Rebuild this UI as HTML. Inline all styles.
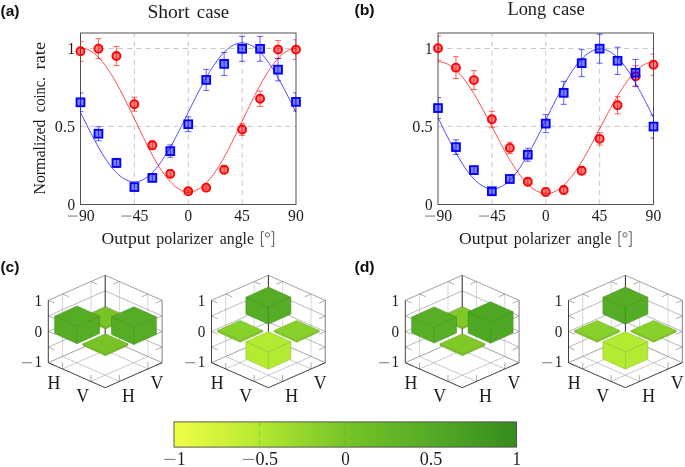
<!DOCTYPE html>
<html><head><meta charset="utf-8"><title>figure</title>
<style>html,body{margin:0;padding:0;background:#fff;overflow:hidden;}svg{display:block;will-change:transform;}text{fill:#1c1c1c;}</style></head>
<body>
<svg width="685" height="467" viewBox="0 0 685 467">
<rect width="685" height="467" fill="#ffffff"/>
<clipPath id="clip1"><rect x="80.5" y="33.0" width="215.5" height="171.5"/></clipPath>
<path d="M134.38,204.5V33.0" stroke="#b9b9b9" stroke-width="0.8" stroke-dasharray="5.2 4.1" fill="none"/>
<path d="M188.25,204.5V33.0" stroke="#b9b9b9" stroke-width="0.8" stroke-dasharray="5.2 4.1" fill="none"/>
<path d="M242.12,204.5V33.0" stroke="#b9b9b9" stroke-width="0.8" stroke-dasharray="5.2 4.1" fill="none"/>
<path d="M80.5,126.40H296.0" stroke="#b9b9b9" stroke-width="0.8" stroke-dasharray="5.2 4.1" fill="none"/>
<path d="M80.5,48.50H296.0" stroke="#b9b9b9" stroke-width="0.8" stroke-dasharray="5.2 4.1" fill="none"/>
<rect x="80.5" y="33.0" width="215.5" height="171.5" fill="none" stroke="#3f3f3f" stroke-width="0.9"/>
<g clip-path="url(#clip1)">
<path d="M80.5,48.2L82.3,48.2L84.1,48.5L85.9,48.9L87.7,49.5L89.5,50.3L91.3,51.3L93.1,52.5L94.9,53.9L96.7,55.5L98.5,57.2L100.3,59.1L102.0,61.2L103.8,63.4L105.6,65.8L107.4,68.4L109.2,71.1L111.0,73.9L112.8,76.8L114.6,79.9L116.4,83.1L118.2,86.4L120.0,89.7L121.8,93.2L123.6,96.7L125.4,100.3L127.2,103.9L129.0,107.6L130.8,111.4L132.6,115.1L134.4,118.9L136.2,122.6L138.0,126.4L139.8,130.1L141.6,133.8L143.4,137.5L145.2,141.1L146.9,144.7L148.7,148.2L150.5,151.6L152.3,155.0L154.1,158.2L155.9,161.4L157.7,164.4L159.5,167.3L161.3,170.1L163.1,172.7L164.9,175.2L166.7,177.6L168.5,179.7L170.3,181.8L172.1,183.6L173.9,185.3L175.7,186.8L177.5,188.1L179.3,189.3L181.1,190.2L182.9,190.9L184.7,191.5L186.5,191.9L188.2,192.0L190.0,192.0L191.8,191.8L193.6,191.3L195.4,190.7L197.2,189.9L199.0,188.9L200.8,187.7L202.6,186.3L204.4,184.8L206.2,183.0L208.0,181.1L209.8,179.0L211.6,176.8L213.4,174.4L215.2,171.9L217.0,169.2L218.8,166.3L220.6,163.4L222.4,160.3L224.2,157.2L226.0,153.9L227.8,150.5L229.6,147.1L231.3,143.5L233.1,139.9L234.9,136.3L236.7,132.6L238.5,128.9L240.3,125.1L242.1,121.4L243.9,117.6L245.7,113.9L247.5,110.1L249.3,106.4L251.1,102.7L252.9,99.1L254.7,95.5L256.5,92.0L258.3,88.6L260.1,85.3L261.9,82.0L263.7,78.9L265.5,75.8L267.3,72.9L269.1,70.2L270.9,67.5L272.7,65.0L274.4,62.7L276.2,60.5L278.0,58.5L279.8,56.6L281.6,54.9L283.4,53.4L285.2,52.1L287.0,51.0L288.8,50.0L290.6,49.3L292.4,48.7L294.2,48.4L296.0,48.2" fill="none" stroke="#ff0000" stroke-width="0.7" stroke-linejoin="round"/>
<path d="M80.50,41.31V61.31M77.45,41.31h6.1M77.45,61.31h6.1M98.46,38.67V58.67M95.41,38.67h6.1M95.41,58.67h6.1M116.42,46.37V65.57M113.37,46.37h6.1M113.37,65.57h6.1M134.38,97.18V111.18M131.32,97.18h6.1M131.32,111.18h6.1M152.33,140.93V149.53M149.28,140.93h6.1M149.28,149.53h6.1M170.29,169.84V177.84M167.24,169.84h6.1M167.24,177.84h6.1M188.25,190.06V192.46M185.20,190.06h6.1M185.20,192.46h6.1M206.21,186.18V189.18M203.16,186.18h6.1M203.16,189.18h6.1M224.17,165.80V173.80M221.12,165.80h6.1M221.12,173.80h6.1M242.12,123.63V135.43M239.07,123.63h6.1M239.07,135.43h6.1M260.08,91.04V106.44M257.03,91.04h6.1M257.03,106.44h6.1M278.04,40.70V58.50M274.99,40.70h6.1M274.99,58.50h6.1M296.00,39.80V59.40M292.95,39.80h6.1M292.95,59.40h6.1" stroke="#ff0000" stroke-width="0.62" fill="none"/>
</g>
<circle cx="80.50" cy="51.31" r="4.02" fill="#ff0000" fill-opacity="0.5" stroke="#ff0000" stroke-width="1.85"/>
<circle cx="98.46" cy="48.67" r="4.02" fill="#ff0000" fill-opacity="0.5" stroke="#ff0000" stroke-width="1.85"/>
<circle cx="116.42" cy="55.97" r="4.02" fill="#ff0000" fill-opacity="0.5" stroke="#ff0000" stroke-width="1.85"/>
<circle cx="134.38" cy="104.18" r="4.02" fill="#ff0000" fill-opacity="0.5" stroke="#ff0000" stroke-width="1.85"/>
<circle cx="152.33" cy="145.23" r="4.02" fill="#ff0000" fill-opacity="0.5" stroke="#ff0000" stroke-width="1.85"/>
<circle cx="170.29" cy="173.84" r="4.02" fill="#ff0000" fill-opacity="0.5" stroke="#ff0000" stroke-width="1.85"/>
<circle cx="188.25" cy="191.26" r="4.02" fill="#ff0000" fill-opacity="0.5" stroke="#ff0000" stroke-width="1.85"/>
<circle cx="206.21" cy="187.68" r="4.02" fill="#ff0000" fill-opacity="0.5" stroke="#ff0000" stroke-width="1.85"/>
<circle cx="224.17" cy="169.80" r="4.02" fill="#ff0000" fill-opacity="0.5" stroke="#ff0000" stroke-width="1.85"/>
<circle cx="242.12" cy="129.53" r="4.02" fill="#ff0000" fill-opacity="0.5" stroke="#ff0000" stroke-width="1.85"/>
<circle cx="260.08" cy="98.74" r="4.02" fill="#ff0000" fill-opacity="0.5" stroke="#ff0000" stroke-width="1.85"/>
<circle cx="278.04" cy="49.60" r="4.02" fill="#ff0000" fill-opacity="0.5" stroke="#ff0000" stroke-width="1.85"/>
<circle cx="296.00" cy="49.60" r="4.02" fill="#ff0000" fill-opacity="0.5" stroke="#ff0000" stroke-width="1.85"/>
<g clip-path="url(#clip1)">
<path d="M80.5,112.4L82.3,116.1L84.1,119.7L85.9,123.3L87.7,126.9L89.5,130.4L91.3,133.9L93.1,137.3L94.9,140.7L96.7,144.0L98.5,147.2L100.3,150.3L102.0,153.3L103.8,156.2L105.6,158.9L107.4,161.6L109.2,164.1L111.0,166.4L112.8,168.7L114.6,170.7L116.4,172.6L118.2,174.4L120.0,175.9L121.8,177.3L123.6,178.5L125.4,179.6L127.2,180.4L129.0,181.1L130.8,181.5L132.6,181.8L134.4,181.9L136.2,181.8L138.0,181.5L139.8,181.1L141.6,180.4L143.4,179.6L145.2,178.5L146.9,177.3L148.7,175.9L150.5,174.4L152.3,172.6L154.1,170.7L155.9,168.7L157.7,166.4L159.5,164.1L161.3,161.6L163.1,158.9L164.9,156.2L166.7,153.3L168.5,150.3L170.3,147.2L172.1,144.0L173.9,140.7L175.7,137.3L177.5,133.9L179.3,130.4L181.1,126.9L182.9,123.3L184.7,119.7L186.5,116.1L188.2,112.4L190.0,108.8L191.8,105.2L193.6,101.5L195.4,98.0L197.2,94.4L199.0,90.9L200.8,87.5L202.6,84.1L204.4,80.9L206.2,77.7L208.0,74.6L209.8,71.6L211.6,68.7L213.4,65.9L215.2,63.3L217.0,60.8L218.8,58.4L220.6,56.2L222.4,54.1L224.2,52.2L226.0,50.5L227.8,48.9L229.6,47.5L231.3,46.3L233.1,45.3L234.9,44.4L236.7,43.8L238.5,43.3L240.3,43.0L242.1,42.9L243.9,43.0L245.7,43.3L247.5,43.8L249.3,44.4L251.1,45.3L252.9,46.3L254.7,47.5L256.5,48.9L258.3,50.5L260.1,52.2L261.9,54.1L263.7,56.2L265.5,58.4L267.3,60.8L269.1,63.3L270.9,65.9L272.7,68.7L274.4,71.6L276.2,74.6L278.0,77.7L279.8,80.9L281.6,84.1L283.4,87.5L285.2,90.9L287.0,94.4L288.8,98.0L290.6,101.5L292.4,105.2L294.2,108.8L296.0,112.4" fill="none" stroke="#0000ff" stroke-width="0.7" stroke-linejoin="round"/>
<path d="M80.50,93.01V111.61M77.45,93.01h6.1M77.45,111.61h6.1M98.46,126.72V140.72M95.41,126.72h6.1M95.41,140.72h6.1M116.42,158.36V167.56M113.37,158.36h6.1M113.37,167.56h6.1M134.38,183.46V190.66M131.32,183.46h6.1M131.32,190.66h6.1M152.33,173.89V181.89M149.28,173.89h6.1M149.28,181.89h6.1M170.29,144.94V157.34M167.24,144.94h6.1M167.24,157.34h6.1M188.25,116.84V131.64M185.20,116.84h6.1M185.20,131.64h6.1M206.21,69.42V90.42M203.16,69.42h6.1M203.16,90.42h6.1M224.17,52.41V75.41M221.12,52.41h6.1M221.12,75.41h6.1M242.12,36.32V61.32M239.07,36.32h6.1M239.07,61.32h6.1M260.08,36.42V61.22M257.03,36.42h6.1M257.03,61.22h6.1M278.04,58.46V80.86M274.99,58.46h6.1M274.99,80.86h6.1M296.00,92.85V110.85M292.95,92.85h6.1M292.95,110.85h6.1" stroke="#0000ff" stroke-width="0.62" fill="none"/>
</g>
<rect x="76.58" y="98.39" width="7.84" height="7.84" fill="#0000ff" fill-opacity="0.5" stroke="#0000ff" stroke-width="1.85"/>
<rect x="94.54" y="129.80" width="7.84" height="7.84" fill="#0000ff" fill-opacity="0.5" stroke="#0000ff" stroke-width="1.85"/>
<rect x="112.50" y="159.04" width="7.84" height="7.84" fill="#0000ff" fill-opacity="0.5" stroke="#0000ff" stroke-width="1.85"/>
<rect x="130.46" y="183.14" width="7.84" height="7.84" fill="#0000ff" fill-opacity="0.5" stroke="#0000ff" stroke-width="1.85"/>
<rect x="148.41" y="173.97" width="7.84" height="7.84" fill="#0000ff" fill-opacity="0.5" stroke="#0000ff" stroke-width="1.85"/>
<rect x="166.37" y="147.22" width="7.84" height="7.84" fill="#0000ff" fill-opacity="0.5" stroke="#0000ff" stroke-width="1.85"/>
<rect x="184.33" y="120.32" width="7.84" height="7.84" fill="#0000ff" fill-opacity="0.5" stroke="#0000ff" stroke-width="1.85"/>
<rect x="202.29" y="76.00" width="7.84" height="7.84" fill="#0000ff" fill-opacity="0.5" stroke="#0000ff" stroke-width="1.85"/>
<rect x="220.25" y="59.99" width="7.84" height="7.84" fill="#0000ff" fill-opacity="0.5" stroke="#0000ff" stroke-width="1.85"/>
<rect x="238.21" y="44.90" width="7.84" height="7.84" fill="#0000ff" fill-opacity="0.5" stroke="#0000ff" stroke-width="1.85"/>
<rect x="256.16" y="44.90" width="7.84" height="7.84" fill="#0000ff" fill-opacity="0.5" stroke="#0000ff" stroke-width="1.85"/>
<rect x="274.12" y="65.74" width="7.84" height="7.84" fill="#0000ff" fill-opacity="0.5" stroke="#0000ff" stroke-width="1.85"/>
<rect x="292.08" y="97.93" width="7.84" height="7.84" fill="#0000ff" fill-opacity="0.5" stroke="#0000ff" stroke-width="1.85"/>
<path d="M67.61,216.05h10.09" stroke="#3a3a3a" stroke-width="0.7" fill="none"/>
<text x="78.90" y="220.70" font-size="16.5" text-anchor="start" font-family='"Liberation Serif", serif' textLength="15.70" lengthAdjust="spacingAndGlyphs" >90</text>
<path d="M121.49,216.05h10.09" stroke="#3a3a3a" stroke-width="0.7" fill="none"/>
<text x="132.78" y="220.70" font-size="16.5" text-anchor="start" font-family='"Liberation Serif", serif' textLength="15.70" lengthAdjust="spacingAndGlyphs" >45</text>
<text x="184.40" y="220.70" font-size="16.5" text-anchor="start" font-family='"Liberation Serif", serif' textLength="7.60" lengthAdjust="spacingAndGlyphs" >0</text>
<text x="234.23" y="220.70" font-size="16.5" text-anchor="start" font-family='"Liberation Serif", serif' textLength="15.70" lengthAdjust="spacingAndGlyphs" >45</text>
<text x="288.10" y="220.70" font-size="16.5" text-anchor="start" font-family='"Liberation Serif", serif' textLength="15.70" lengthAdjust="spacingAndGlyphs" >90</text>
<text x="67.40" y="209.80" font-size="16.5" text-anchor="start" font-family='"Liberation Serif", serif' textLength="7.60" lengthAdjust="spacingAndGlyphs" >0</text>
<text x="54.80" y="131.70" font-size="16.5" text-anchor="start" font-family='"Liberation Serif", serif' textLength="20.20" lengthAdjust="spacingAndGlyphs" >0.5</text>
<text x="67.40" y="53.80" font-size="16.5" text-anchor="start" font-family='"Liberation Serif", serif' textLength="7.60" lengthAdjust="spacingAndGlyphs" >1</text>
<text x="101.60" y="243.90" font-size="16.6" text-anchor="start" font-family='"Liberation Serif", serif' textLength="48.90" lengthAdjust="spacingAndGlyphs" >Output</text>
<text x="156.30" y="243.90" font-size="16.6" text-anchor="start" font-family='"Liberation Serif", serif' textLength="56.70" lengthAdjust="spacingAndGlyphs" >polarizer</text>
<text x="219.80" y="243.90" font-size="16.6" text-anchor="start" font-family='"Liberation Serif", serif' textLength="34.20" lengthAdjust="spacingAndGlyphs" >angle</text>
<path d="M263.80,231.7H261.45V246.4H263.80M271.30,231.7H273.65V246.4H271.30" stroke="#333" stroke-width="0.85" fill="none"/>
<circle cx="267.45" cy="234.8" r="2.15" stroke="#333" stroke-width="0.75" fill="none"/>
<clipPath id="clip2"><rect x="438.0" y="33.0" width="215.5" height="171.5"/></clipPath>
<path d="M491.88,204.5V33.0" stroke="#b9b9b9" stroke-width="0.8" stroke-dasharray="5.2 4.1" fill="none"/>
<path d="M545.75,204.5V33.0" stroke="#b9b9b9" stroke-width="0.8" stroke-dasharray="5.2 4.1" fill="none"/>
<path d="M599.62,204.5V33.0" stroke="#b9b9b9" stroke-width="0.8" stroke-dasharray="5.2 4.1" fill="none"/>
<path d="M438.0,126.40H653.5" stroke="#b9b9b9" stroke-width="0.8" stroke-dasharray="5.2 4.1" fill="none"/>
<path d="M438.0,48.50H653.5" stroke="#b9b9b9" stroke-width="0.8" stroke-dasharray="5.2 4.1" fill="none"/>
<rect x="438.0" y="33.0" width="215.5" height="171.5" fill="none" stroke="#3f3f3f" stroke-width="0.9"/>
<g clip-path="url(#clip2)">
<path d="M438.0,61.9L439.8,61.9L441.6,62.1L443.4,62.5L445.2,63.1L447.0,63.8L448.8,64.8L450.6,65.9L452.4,67.1L454.2,68.5L456.0,70.1L457.8,71.9L459.6,73.8L461.3,75.8L463.1,78.0L464.9,80.4L466.7,82.8L468.5,85.4L470.3,88.1L472.1,90.9L473.9,93.8L475.7,96.8L477.5,99.9L479.3,103.1L481.1,106.3L482.9,109.6L484.7,112.9L486.5,116.3L488.3,119.7L490.1,123.1L491.9,126.6L493.7,130.0L495.5,133.5L497.3,136.9L499.1,140.3L500.9,143.7L502.6,147.0L504.4,150.3L506.2,153.5L508.0,156.6L509.8,159.7L511.6,162.6L513.4,165.5L515.2,168.3L517.0,170.9L518.8,173.5L520.6,175.9L522.4,178.2L524.2,180.3L526.0,182.3L527.8,184.2L529.6,185.9L531.4,187.4L533.2,188.8L535.0,190.0L536.8,191.0L538.6,191.9L540.4,192.6L542.2,193.1L544.0,193.4L545.8,193.6L547.5,193.6L549.3,193.3L551.1,193.0L552.9,192.4L554.7,191.6L556.5,190.7L558.3,189.6L560.1,188.4L561.9,186.9L563.7,185.3L565.5,183.6L567.3,181.7L569.1,179.6L570.9,177.4L572.7,175.1L574.5,172.7L576.3,170.1L578.1,167.4L579.9,164.6L581.7,161.7L583.5,158.7L585.3,155.6L587.1,152.4L588.9,149.2L590.6,145.9L592.4,142.6L594.2,139.2L596.0,135.8L597.8,132.3L599.6,128.9L601.4,125.4L603.2,122.0L605.0,118.6L606.8,115.2L608.6,111.8L610.4,108.5L612.2,105.2L614.0,102.0L615.8,98.9L617.6,95.8L619.4,92.8L621.2,90.0L623.0,87.2L624.8,84.5L626.6,82.0L628.4,79.6L630.2,77.3L632.0,75.1L633.7,73.1L635.5,71.3L637.3,69.6L639.1,68.1L640.9,66.7L642.7,65.5L644.5,64.4L646.3,63.6L648.1,62.9L649.9,62.4L651.7,62.0L653.5,61.9" fill="none" stroke="#ff0000" stroke-width="0.7" stroke-linejoin="round"/>
<path d="M438.00,36.00V60.40M434.95,36.00h6.1M434.95,60.40h6.1M455.96,56.74V78.54M452.91,56.74h6.1M452.91,78.54h6.1M473.92,70.68V89.48M470.87,70.68h6.1M470.87,89.48h6.1M491.88,111.26V127.26M488.82,111.26h6.1M488.82,127.26h6.1M509.83,142.18V153.58M506.78,142.18h6.1M506.78,153.58h6.1M527.79,177.77V185.77M524.74,177.77h6.1M524.74,185.77h6.1M545.75,187.88V195.88M542.70,187.88h6.1M542.70,195.88h6.1M563.71,186.02V194.02M560.66,186.02h6.1M560.66,194.02h6.1M581.67,166.73V174.73M578.62,166.73h6.1M578.62,174.73h6.1M599.62,132.66V145.06M596.58,132.66h6.1M596.58,145.06h6.1M617.58,96.67V113.87M614.53,96.67h6.1M614.53,113.87h6.1M635.54,65.69V86.69M632.49,65.69h6.1M632.49,86.69h6.1M653.50,54.08V75.28M650.45,54.08h6.1M650.45,75.28h6.1" stroke="#ff0000" stroke-width="0.62" fill="none"/>
</g>
<circle cx="438.00" cy="48.20" r="4.02" fill="#ff0000" fill-opacity="0.5" stroke="#ff0000" stroke-width="1.85"/>
<circle cx="455.96" cy="67.64" r="4.02" fill="#ff0000" fill-opacity="0.5" stroke="#ff0000" stroke-width="1.85"/>
<circle cx="473.92" cy="80.08" r="4.02" fill="#ff0000" fill-opacity="0.5" stroke="#ff0000" stroke-width="1.85"/>
<circle cx="491.88" cy="119.26" r="4.02" fill="#ff0000" fill-opacity="0.5" stroke="#ff0000" stroke-width="1.85"/>
<circle cx="509.83" cy="147.88" r="4.02" fill="#ff0000" fill-opacity="0.5" stroke="#ff0000" stroke-width="1.85"/>
<circle cx="527.79" cy="181.77" r="4.02" fill="#ff0000" fill-opacity="0.5" stroke="#ff0000" stroke-width="1.85"/>
<circle cx="545.75" cy="191.88" r="4.02" fill="#ff0000" fill-opacity="0.5" stroke="#ff0000" stroke-width="1.85"/>
<circle cx="563.71" cy="190.02" r="4.02" fill="#ff0000" fill-opacity="0.5" stroke="#ff0000" stroke-width="1.85"/>
<circle cx="581.67" cy="170.73" r="4.02" fill="#ff0000" fill-opacity="0.5" stroke="#ff0000" stroke-width="1.85"/>
<circle cx="599.62" cy="138.86" r="4.02" fill="#ff0000" fill-opacity="0.5" stroke="#ff0000" stroke-width="1.85"/>
<circle cx="617.58" cy="105.27" r="4.02" fill="#ff0000" fill-opacity="0.5" stroke="#ff0000" stroke-width="1.85"/>
<circle cx="635.54" cy="76.19" r="4.02" fill="#ff0000" fill-opacity="0.5" stroke="#ff0000" stroke-width="1.85"/>
<circle cx="653.50" cy="64.68" r="4.02" fill="#ff0000" fill-opacity="0.5" stroke="#ff0000" stroke-width="1.85"/>
<g clip-path="url(#clip2)">
<path d="M438.0,117.7L439.8,121.4L441.6,125.1L443.4,128.7L445.2,132.3L447.0,135.9L448.8,139.4L450.6,142.9L452.4,146.3L454.2,149.6L456.0,152.9L457.8,156.0L459.6,159.1L461.3,162.0L463.1,164.9L464.9,167.6L466.7,170.1L468.5,172.6L470.3,174.8L472.1,177.0L473.9,178.9L475.7,180.7L477.5,182.4L479.3,183.8L481.1,185.1L482.9,186.2L484.7,187.1L486.5,187.9L488.3,188.4L490.1,188.8L491.9,188.9L493.7,188.9L495.5,188.7L497.3,188.2L499.1,187.6L500.9,186.8L502.6,185.9L504.4,184.7L506.2,183.4L508.0,181.8L509.8,180.2L511.6,178.3L513.4,176.3L515.2,174.1L517.0,171.8L518.8,169.3L520.6,166.7L522.4,163.9L524.2,161.1L526.0,158.1L527.8,155.0L529.6,151.8L531.4,148.5L533.2,145.2L535.0,141.7L536.8,138.2L538.6,134.7L540.4,131.1L542.2,127.5L544.0,123.8L545.8,120.2L547.5,116.5L549.3,112.9L551.1,109.2L552.9,105.6L554.7,102.0L556.5,98.5L558.3,95.0L560.1,91.6L561.9,88.3L563.7,85.0L565.5,81.9L567.3,78.8L569.1,75.9L570.9,73.0L572.7,70.3L574.5,67.8L576.3,65.3L578.1,63.1L579.9,60.9L581.7,59.0L583.5,57.2L585.3,55.5L587.1,54.1L588.9,52.8L590.6,51.7L592.4,50.8L594.2,50.0L596.0,49.5L597.8,49.1L599.6,49.0L601.4,49.0L603.2,49.2L605.0,49.7L606.8,50.3L608.6,51.1L610.4,52.0L612.2,53.2L614.0,54.5L615.8,56.1L617.6,57.8L619.4,59.6L621.2,61.6L623.0,63.8L624.8,66.1L626.6,68.6L628.4,71.2L630.2,74.0L632.0,76.8L633.7,79.8L635.5,82.9L637.3,86.1L639.1,89.4L640.9,92.7L642.7,96.2L644.5,99.7L646.3,103.2L648.1,106.8L649.9,110.4L651.7,114.1L653.5,117.7" fill="none" stroke="#0000ff" stroke-width="0.7" stroke-linejoin="round"/>
<path d="M438.00,97.57V118.57M434.95,97.57h6.1M434.95,118.57h6.1M455.96,139.80V154.40M452.91,139.80h6.1M452.91,154.40h6.1M473.92,166.11V174.11M470.87,166.11h6.1M470.87,174.11h6.1M491.88,188.26V194.26M488.82,188.26h6.1M488.82,194.26h6.1M509.83,174.98V182.98M506.78,174.98h6.1M506.78,182.98h6.1M527.79,148.22V161.22M524.74,148.22h6.1M524.74,161.22h6.1M545.75,114.62V132.62M542.70,114.62h6.1M542.70,132.62h6.1M563.71,81.33V104.33M560.66,81.33h6.1M560.66,104.33h6.1M581.67,49.63V76.63M578.62,49.63h6.1M578.62,76.63h6.1M599.62,34.17V63.17M596.58,34.17h6.1M596.58,63.17h6.1M617.58,47.20V74.40M614.53,47.20h6.1M614.53,74.40h6.1M635.54,59.47V86.07M632.49,59.47h6.1M632.49,86.07h6.1M653.50,115.07V138.07M650.45,115.07h6.1M650.45,138.07h6.1" stroke="#0000ff" stroke-width="0.62" fill="none"/>
</g>
<rect x="434.08" y="104.15" width="7.84" height="7.84" fill="#0000ff" fill-opacity="0.5" stroke="#0000ff" stroke-width="1.85"/>
<rect x="452.04" y="143.18" width="7.84" height="7.84" fill="#0000ff" fill-opacity="0.5" stroke="#0000ff" stroke-width="1.85"/>
<rect x="470.00" y="166.19" width="7.84" height="7.84" fill="#0000ff" fill-opacity="0.5" stroke="#0000ff" stroke-width="1.85"/>
<rect x="487.95" y="187.34" width="7.84" height="7.84" fill="#0000ff" fill-opacity="0.5" stroke="#0000ff" stroke-width="1.85"/>
<rect x="505.91" y="175.06" width="7.84" height="7.84" fill="#0000ff" fill-opacity="0.5" stroke="#0000ff" stroke-width="1.85"/>
<rect x="523.87" y="150.80" width="7.84" height="7.84" fill="#0000ff" fill-opacity="0.5" stroke="#0000ff" stroke-width="1.85"/>
<rect x="541.83" y="119.70" width="7.84" height="7.84" fill="#0000ff" fill-opacity="0.5" stroke="#0000ff" stroke-width="1.85"/>
<rect x="559.79" y="88.91" width="7.84" height="7.84" fill="#0000ff" fill-opacity="0.5" stroke="#0000ff" stroke-width="1.85"/>
<rect x="577.75" y="59.21" width="7.84" height="7.84" fill="#0000ff" fill-opacity="0.5" stroke="#0000ff" stroke-width="1.85"/>
<rect x="595.71" y="44.75" width="7.84" height="7.84" fill="#0000ff" fill-opacity="0.5" stroke="#0000ff" stroke-width="1.85"/>
<rect x="613.66" y="56.88" width="7.84" height="7.84" fill="#0000ff" fill-opacity="0.5" stroke="#0000ff" stroke-width="1.85"/>
<rect x="631.62" y="68.85" width="7.84" height="7.84" fill="#0000ff" fill-opacity="0.5" stroke="#0000ff" stroke-width="1.85"/>
<rect x="649.58" y="122.65" width="7.84" height="7.84" fill="#0000ff" fill-opacity="0.5" stroke="#0000ff" stroke-width="1.85"/>
<path d="M425.11,216.05h10.09" stroke="#3a3a3a" stroke-width="0.7" fill="none"/>
<text x="436.40" y="220.70" font-size="16.5" text-anchor="start" font-family='"Liberation Serif", serif' textLength="15.70" lengthAdjust="spacingAndGlyphs" >90</text>
<path d="M478.99,216.05h10.09" stroke="#3a3a3a" stroke-width="0.7" fill="none"/>
<text x="490.28" y="220.70" font-size="16.5" text-anchor="start" font-family='"Liberation Serif", serif' textLength="15.70" lengthAdjust="spacingAndGlyphs" >45</text>
<text x="541.90" y="220.70" font-size="16.5" text-anchor="start" font-family='"Liberation Serif", serif' textLength="7.60" lengthAdjust="spacingAndGlyphs" >0</text>
<text x="591.72" y="220.70" font-size="16.5" text-anchor="start" font-family='"Liberation Serif", serif' textLength="15.70" lengthAdjust="spacingAndGlyphs" >45</text>
<text x="645.60" y="220.70" font-size="16.5" text-anchor="start" font-family='"Liberation Serif", serif' textLength="15.70" lengthAdjust="spacingAndGlyphs" >90</text>
<text x="424.90" y="209.80" font-size="16.5" text-anchor="start" font-family='"Liberation Serif", serif' textLength="7.60" lengthAdjust="spacingAndGlyphs" >0</text>
<text x="412.30" y="131.70" font-size="16.5" text-anchor="start" font-family='"Liberation Serif", serif' textLength="20.20" lengthAdjust="spacingAndGlyphs" >0.5</text>
<text x="424.90" y="53.80" font-size="16.5" text-anchor="start" font-family='"Liberation Serif", serif' textLength="7.60" lengthAdjust="spacingAndGlyphs" >1</text>
<text x="459.10" y="243.90" font-size="16.6" text-anchor="start" font-family='"Liberation Serif", serif' textLength="48.90" lengthAdjust="spacingAndGlyphs" >Output</text>
<text x="513.80" y="243.90" font-size="16.6" text-anchor="start" font-family='"Liberation Serif", serif' textLength="56.70" lengthAdjust="spacingAndGlyphs" >polarizer</text>
<text x="577.30" y="243.90" font-size="16.6" text-anchor="start" font-family='"Liberation Serif", serif' textLength="34.20" lengthAdjust="spacingAndGlyphs" >angle</text>
<path d="M621.30,231.7H618.95V246.4H621.30M628.80,231.7H631.15V246.4H628.80" stroke="#333" stroke-width="0.85" fill="none"/>
<circle cx="624.95" cy="234.8" r="2.15" stroke="#333" stroke-width="0.75" fill="none"/>
<text x="147.40" y="18.20" font-size="19.8" text-anchor="start" font-family='"Liberation Serif", serif' textLength="42.40" lengthAdjust="spacingAndGlyphs" >Short</text>
<text x="196.80" y="18.20" font-size="19.8" text-anchor="start" font-family='"Liberation Serif", serif' textLength="32.40" lengthAdjust="spacingAndGlyphs" >case</text>
<text x="507.40" y="15.20" font-size="19.8" text-anchor="start" font-family='"Liberation Serif", serif' textLength="38.90" lengthAdjust="spacingAndGlyphs" >Long</text>
<text x="552.60" y="15.20" font-size="19.8" text-anchor="start" font-family='"Liberation Serif", serif' textLength="32.20" lengthAdjust="spacingAndGlyphs" >case</text>
<g transform="translate(44.6,118) rotate(-90)">
<text x="-76.60" y="0.00" font-size="16.6" text-anchor="start" font-family='"Liberation Serif", serif' textLength="75.00" lengthAdjust="spacingAndGlyphs" >Normalized</text>
<text x="5.70" y="0.00" font-size="16.6" text-anchor="start" font-family='"Liberation Serif", serif' textLength="35.10" lengthAdjust="spacingAndGlyphs" >coinc.</text>
<text x="48.50" y="0.00" font-size="16.6" text-anchor="start" font-family='"Liberation Serif", serif' textLength="27.60" lengthAdjust="spacingAndGlyphs" >rate</text>
</g>
<text x="0.50" y="15.60" font-size="14.3" text-anchor="start" font-family='"Liberation Sans", sans-serif' font-weight="bold" textLength="19.00" lengthAdjust="spacingAndGlyphs" style="fill:#0d0d0d">(a)</text>
<text x="354.40" y="15.40" font-size="14.3" text-anchor="start" font-family='"Liberation Sans", sans-serif' font-weight="bold" textLength="20.20" lengthAdjust="spacingAndGlyphs" style="fill:#0d0d0d">(b)</text>
<text x="0.40" y="272.40" font-size="14.3" text-anchor="start" font-family='"Liberation Sans", sans-serif' font-weight="bold" textLength="19.00" lengthAdjust="spacingAndGlyphs" style="fill:#0d0d0d">(c)</text>
<text x="354.40" y="272.00" font-size="14.3" text-anchor="start" font-family='"Liberation Sans", sans-serif' font-weight="bold" textLength="20.20" lengthAdjust="spacingAndGlyphs" style="fill:#0d0d0d">(d)</text>
<path d="M62.53,368.95L119.42,343.95" stroke="#b2b2b2" stroke-width="0.7" fill="none"/>
<path d="M62.53,356.45L119.42,381.45" stroke="#b2b2b2" stroke-width="0.7" fill="none"/>
<path d="M90.98,381.45L147.88,356.45" stroke="#b2b2b2" stroke-width="0.7" fill="none"/>
<path d="M90.98,343.95L147.88,368.95" stroke="#b2b2b2" stroke-width="0.7" fill="none"/>
<path d="M62.53,356.45L62.53,294.05" stroke="#c6c6c6" stroke-width="0.7" fill="none"/>
<path d="M119.42,343.95L119.42,281.55" stroke="#c6c6c6" stroke-width="0.7" fill="none"/>
<path d="M90.98,343.95L90.98,281.55" stroke="#c6c6c6" stroke-width="0.7" fill="none"/>
<path d="M147.88,356.45L147.88,294.05" stroke="#c6c6c6" stroke-width="0.7" fill="none"/>
<path d="M48.30,347.10L105.20,322.10" stroke="#9c9c9c" stroke-width="0.7" fill="none"/>
<path d="M105.20,322.10L162.10,347.10" stroke="#9c9c9c" stroke-width="0.7" fill="none"/>
<path d="M48.30,331.50L105.20,306.50" stroke="#9c9c9c" stroke-width="0.7" fill="none"/>
<path d="M105.20,306.50L162.10,331.50" stroke="#9c9c9c" stroke-width="0.7" fill="none"/>
<path d="M48.30,315.90L105.20,290.90" stroke="#9c9c9c" stroke-width="0.7" fill="none"/>
<path d="M105.20,290.90L162.10,315.90" stroke="#9c9c9c" stroke-width="0.7" fill="none"/>
<path d="M48.30,300.30L105.20,275.30" stroke="#8a8a8a" stroke-width="0.8" fill="none"/>
<path d="M105.20,275.30L162.10,300.30" stroke="#8a8a8a" stroke-width="0.8" fill="none"/>
<path d="M162.10,300.30L162.10,362.70" stroke="#8a8a8a" stroke-width="1.1" fill="none"/>
<path d="M105.20,275.30L105.20,337.70" stroke="#2a2a2a" stroke-width="1.0" fill="none"/>
<path d="M48.30,362.70L105.20,337.70" stroke="#8a8a8a" stroke-width="0.8" fill="none"/>
<path d="M105.20,337.70L162.10,362.70" stroke="#8a8a8a" stroke-width="0.8" fill="none"/>
<path d="M62.53,294.05L68.78,296.80" stroke="#8a8a8a" stroke-width="0.7" fill="none"/>
<path d="M119.42,281.55L113.17,284.30" stroke="#8a8a8a" stroke-width="0.7" fill="none"/>
<path d="M62.53,368.95v-6.5" stroke="#8a8a8a" stroke-width="0.7"/>
<path d="M119.42,381.45v-6.5" stroke="#8a8a8a" stroke-width="0.7"/>
<path d="M90.98,281.55L97.23,284.30" stroke="#8a8a8a" stroke-width="0.7" fill="none"/>
<path d="M147.88,294.05L141.62,296.80" stroke="#8a8a8a" stroke-width="0.7" fill="none"/>
<path d="M90.98,381.45v-6.5" stroke="#8a8a8a" stroke-width="0.7"/>
<path d="M147.88,368.95v-6.5" stroke="#8a8a8a" stroke-width="0.7"/>
<path d="M48.30,362.70L54.56,365.45" stroke="#8a8a8a" stroke-width="0.7" fill="none"/>
<path d="M162.10,362.70L155.84,365.45" stroke="#8a8a8a" stroke-width="0.7" fill="none"/>
<path d="M48.30,347.10L54.56,349.85" stroke="#8a8a8a" stroke-width="0.7" fill="none"/>
<path d="M162.10,347.10L155.84,349.85" stroke="#8a8a8a" stroke-width="0.7" fill="none"/>
<path d="M48.30,331.50L54.56,334.25" stroke="#8a8a8a" stroke-width="0.7" fill="none"/>
<path d="M162.10,331.50L155.84,334.25" stroke="#8a8a8a" stroke-width="0.7" fill="none"/>
<path d="M48.30,315.90L54.56,318.65" stroke="#8a8a8a" stroke-width="0.7" fill="none"/>
<path d="M162.10,315.90L155.84,318.65" stroke="#8a8a8a" stroke-width="0.7" fill="none"/>
<path d="M48.30,300.30L54.56,303.05" stroke="#8a8a8a" stroke-width="0.7" fill="none"/>
<path d="M162.10,300.30L155.84,303.05" stroke="#8a8a8a" stroke-width="0.7" fill="none"/>
<path d="M48.30,300.30L48.30,362.70" stroke="#2a2a2a" stroke-width="0.9" fill="none"/>
<path d="M48.30,362.70L105.20,387.70" stroke="#2a2a2a" stroke-width="0.9" fill="none"/>
<path d="M105.20,387.70L162.10,362.70" stroke="#2a2a2a" stroke-width="0.9" fill="none"/>
<polygon points="82.90,317.20 105.40,327.30 105.40,329.00 82.90,318.90" fill="#78c426" stroke="#609c1e" stroke-width="0.5" stroke-linejoin="round"/>
<polygon points="105.40,327.30 127.90,317.20 127.90,318.90 105.40,329.00" fill="#78c426" stroke="#609c1e" stroke-width="0.5" stroke-linejoin="round"/>
<polygon points="82.90,317.20 105.40,307.10 127.90,317.20 105.40,327.30" fill="#78c426" stroke="#609c1e" stroke-width="0.5" stroke-linejoin="round"/>
<polygon points="54.60,316.15 77.10,326.25 77.10,343.65 54.60,333.55" fill="#55ad25" stroke="#448a1d" stroke-width="0.5" stroke-linejoin="round"/>
<polygon points="77.10,326.25 99.60,316.15 99.60,333.55 77.10,343.65" fill="#55ad25" stroke="#448a1d" stroke-width="0.5" stroke-linejoin="round"/>
<polygon points="54.60,316.15 77.10,306.05 99.60,316.15 77.10,326.25" fill="#55ad25" stroke="#448a1d" stroke-width="0.5" stroke-linejoin="round"/>
<polygon points="111.40,316.85 133.90,326.95 133.90,344.55 111.40,334.45" fill="#55ad25" stroke="#448a1d" stroke-width="0.5" stroke-linejoin="round"/>
<polygon points="133.90,326.95 156.40,316.85 156.40,334.45 133.90,344.55" fill="#55ad25" stroke="#448a1d" stroke-width="0.5" stroke-linejoin="round"/>
<polygon points="111.40,316.85 133.90,306.75 156.40,316.85 133.90,326.95" fill="#55ad25" stroke="#448a1d" stroke-width="0.5" stroke-linejoin="round"/>
<polygon points="82.90,343.85 105.40,353.95 105.40,355.65 82.90,345.55" fill="#78c426" stroke="#609c1e" stroke-width="0.5" stroke-linejoin="round"/>
<polygon points="105.40,353.95 127.90,343.85 127.90,345.55 105.40,355.65" fill="#78c426" stroke="#609c1e" stroke-width="0.5" stroke-linejoin="round"/>
<polygon points="82.90,343.85 105.40,333.75 127.90,343.85 105.40,353.95" fill="#78c426" stroke="#609c1e" stroke-width="0.5" stroke-linejoin="round"/>
<text x="34.50" y="305.60" font-size="16.5" text-anchor="start" font-family='"Liberation Serif", serif' textLength="7.60" lengthAdjust="spacingAndGlyphs" >1</text>
<text x="34.50" y="336.90" font-size="16.5" text-anchor="start" font-family='"Liberation Serif", serif' textLength="7.60" lengthAdjust="spacingAndGlyphs" >0</text>
<path d="M22.11,362.75h10.09" stroke="#3a3a3a" stroke-width="0.7" fill="none"/>
<text x="34.50" y="367.40" font-size="16.5" text-anchor="start" font-family='"Liberation Serif", serif' textLength="7.60" lengthAdjust="spacingAndGlyphs" >1</text>
<text x="47.60" y="388.80" font-size="19.0" text-anchor="start" font-family='"Liberation Serif", serif' textLength="12.90" lengthAdjust="spacingAndGlyphs" >H</text>
<text x="76.15" y="401.80" font-size="19.0" text-anchor="start" font-family='"Liberation Serif", serif' textLength="12.90" lengthAdjust="spacingAndGlyphs" >V</text>
<text x="122.05" y="401.80" font-size="19.0" text-anchor="start" font-family='"Liberation Serif", serif' textLength="12.90" lengthAdjust="spacingAndGlyphs" >H</text>
<text x="150.55" y="388.80" font-size="19.0" text-anchor="start" font-family='"Liberation Serif", serif' textLength="12.90" lengthAdjust="spacingAndGlyphs" >V</text>
<path d="M225.72,368.95L282.62,343.95" stroke="#b2b2b2" stroke-width="0.7" fill="none"/>
<path d="M225.72,356.45L282.62,381.45" stroke="#b2b2b2" stroke-width="0.7" fill="none"/>
<path d="M254.17,381.45L311.07,356.45" stroke="#b2b2b2" stroke-width="0.7" fill="none"/>
<path d="M254.17,343.95L311.07,368.95" stroke="#b2b2b2" stroke-width="0.7" fill="none"/>
<path d="M225.72,356.45L225.72,294.05" stroke="#c6c6c6" stroke-width="0.7" fill="none"/>
<path d="M282.62,343.95L282.62,281.55" stroke="#c6c6c6" stroke-width="0.7" fill="none"/>
<path d="M254.17,343.95L254.17,281.55" stroke="#c6c6c6" stroke-width="0.7" fill="none"/>
<path d="M311.07,356.45L311.07,294.05" stroke="#c6c6c6" stroke-width="0.7" fill="none"/>
<path d="M211.50,347.10L268.40,322.10" stroke="#9c9c9c" stroke-width="0.7" fill="none"/>
<path d="M268.40,322.10L325.30,347.10" stroke="#9c9c9c" stroke-width="0.7" fill="none"/>
<path d="M211.50,331.50L268.40,306.50" stroke="#9c9c9c" stroke-width="0.7" fill="none"/>
<path d="M268.40,306.50L325.30,331.50" stroke="#9c9c9c" stroke-width="0.7" fill="none"/>
<path d="M211.50,315.90L268.40,290.90" stroke="#9c9c9c" stroke-width="0.7" fill="none"/>
<path d="M268.40,290.90L325.30,315.90" stroke="#9c9c9c" stroke-width="0.7" fill="none"/>
<path d="M211.50,300.30L268.40,275.30" stroke="#8a8a8a" stroke-width="0.8" fill="none"/>
<path d="M268.40,275.30L325.30,300.30" stroke="#8a8a8a" stroke-width="0.8" fill="none"/>
<path d="M325.30,300.30L325.30,362.70" stroke="#8a8a8a" stroke-width="1.1" fill="none"/>
<path d="M268.40,275.30L268.40,337.70" stroke="#2a2a2a" stroke-width="1.0" fill="none"/>
<path d="M211.50,362.70L268.40,337.70" stroke="#8a8a8a" stroke-width="0.8" fill="none"/>
<path d="M268.40,337.70L325.30,362.70" stroke="#8a8a8a" stroke-width="0.8" fill="none"/>
<path d="M225.72,294.05L231.98,296.80" stroke="#8a8a8a" stroke-width="0.7" fill="none"/>
<path d="M282.62,281.55L276.37,284.30" stroke="#8a8a8a" stroke-width="0.7" fill="none"/>
<path d="M225.72,368.95v-6.5" stroke="#8a8a8a" stroke-width="0.7"/>
<path d="M282.62,381.45v-6.5" stroke="#8a8a8a" stroke-width="0.7"/>
<path d="M254.17,281.55L260.43,284.30" stroke="#8a8a8a" stroke-width="0.7" fill="none"/>
<path d="M311.07,294.05L304.82,296.80" stroke="#8a8a8a" stroke-width="0.7" fill="none"/>
<path d="M254.17,381.45v-6.5" stroke="#8a8a8a" stroke-width="0.7"/>
<path d="M311.07,368.95v-6.5" stroke="#8a8a8a" stroke-width="0.7"/>
<path d="M211.50,362.70L217.76,365.45" stroke="#8a8a8a" stroke-width="0.7" fill="none"/>
<path d="M325.30,362.70L319.04,365.45" stroke="#8a8a8a" stroke-width="0.7" fill="none"/>
<path d="M211.50,347.10L217.76,349.85" stroke="#8a8a8a" stroke-width="0.7" fill="none"/>
<path d="M325.30,347.10L319.04,349.85" stroke="#8a8a8a" stroke-width="0.7" fill="none"/>
<path d="M211.50,331.50L217.76,334.25" stroke="#8a8a8a" stroke-width="0.7" fill="none"/>
<path d="M325.30,331.50L319.04,334.25" stroke="#8a8a8a" stroke-width="0.7" fill="none"/>
<path d="M211.50,315.90L217.76,318.65" stroke="#8a8a8a" stroke-width="0.7" fill="none"/>
<path d="M325.30,315.90L319.04,318.65" stroke="#8a8a8a" stroke-width="0.7" fill="none"/>
<path d="M211.50,300.30L217.76,303.05" stroke="#8a8a8a" stroke-width="0.7" fill="none"/>
<path d="M325.30,300.30L319.04,303.05" stroke="#8a8a8a" stroke-width="0.7" fill="none"/>
<path d="M211.50,300.30L211.50,362.70" stroke="#2a2a2a" stroke-width="0.9" fill="none"/>
<path d="M211.50,362.70L268.40,387.70" stroke="#2a2a2a" stroke-width="0.9" fill="none"/>
<path d="M268.40,387.70L325.30,362.70" stroke="#2a2a2a" stroke-width="0.9" fill="none"/>
<polygon points="245.90,297.20 268.40,307.30 268.40,324.20 245.90,314.10" fill="#55ac25" stroke="#44891d" stroke-width="0.5" stroke-linejoin="round"/>
<polygon points="268.40,307.30 290.90,297.20 290.90,314.10 268.40,324.20" fill="#55ac25" stroke="#44891d" stroke-width="0.5" stroke-linejoin="round"/>
<polygon points="245.90,297.20 268.40,287.10 290.90,297.20 268.40,307.30" fill="#55ac25" stroke="#44891d" stroke-width="0.5" stroke-linejoin="round"/>
<polygon points="217.60,330.50 240.10,340.60 240.10,342.20 217.60,332.10" fill="#88d12a" stroke="#6ca721" stroke-width="0.5" stroke-linejoin="round"/>
<polygon points="240.10,340.60 262.60,330.50 262.60,332.10 240.10,342.20" fill="#88d12a" stroke="#6ca721" stroke-width="0.5" stroke-linejoin="round"/>
<polygon points="217.60,330.50 240.10,320.40 262.60,330.50 240.10,340.60" fill="#88d12a" stroke="#6ca721" stroke-width="0.5" stroke-linejoin="round"/>
<polygon points="274.20,330.50 296.70,340.60 296.70,342.20 274.20,332.10" fill="#88d12a" stroke="#6ca721" stroke-width="0.5" stroke-linejoin="round"/>
<polygon points="296.70,340.60 319.20,330.50 319.20,332.10 296.70,342.20" fill="#88d12a" stroke="#6ca721" stroke-width="0.5" stroke-linejoin="round"/>
<polygon points="274.20,330.50 296.70,320.40 319.20,330.50 296.70,340.60" fill="#88d12a" stroke="#6ca721" stroke-width="0.5" stroke-linejoin="round"/>
<polygon points="245.90,341.70 268.40,351.80 268.40,369.20 245.90,359.10" fill="#b2eb32" stroke="#8ebc28" stroke-width="0.5" stroke-linejoin="round"/>
<polygon points="268.40,351.80 290.90,341.70 290.90,359.10 268.40,369.20" fill="#b2eb32" stroke="#8ebc28" stroke-width="0.5" stroke-linejoin="round"/>
<polygon points="245.90,341.70 268.40,331.60 290.90,341.70 268.40,351.80" fill="#b2eb32" stroke="#8ebc28" stroke-width="0.5" stroke-linejoin="round"/>
<text x="197.70" y="305.60" font-size="16.5" text-anchor="start" font-family='"Liberation Serif", serif' textLength="7.60" lengthAdjust="spacingAndGlyphs" >1</text>
<text x="197.70" y="336.90" font-size="16.5" text-anchor="start" font-family='"Liberation Serif", serif' textLength="7.60" lengthAdjust="spacingAndGlyphs" >0</text>
<path d="M185.31,362.75h10.09" stroke="#3a3a3a" stroke-width="0.7" fill="none"/>
<text x="197.70" y="367.40" font-size="16.5" text-anchor="start" font-family='"Liberation Serif", serif' textLength="7.60" lengthAdjust="spacingAndGlyphs" >1</text>
<text x="210.80" y="388.80" font-size="19.0" text-anchor="start" font-family='"Liberation Serif", serif' textLength="12.90" lengthAdjust="spacingAndGlyphs" >H</text>
<text x="239.35" y="401.80" font-size="19.0" text-anchor="start" font-family='"Liberation Serif", serif' textLength="12.90" lengthAdjust="spacingAndGlyphs" >V</text>
<text x="285.25" y="401.80" font-size="19.0" text-anchor="start" font-family='"Liberation Serif", serif' textLength="12.90" lengthAdjust="spacingAndGlyphs" >H</text>
<text x="313.75" y="388.80" font-size="19.0" text-anchor="start" font-family='"Liberation Serif", serif' textLength="12.90" lengthAdjust="spacingAndGlyphs" >V</text>
<path d="M419.52,368.95L476.43,343.95" stroke="#b2b2b2" stroke-width="0.7" fill="none"/>
<path d="M419.52,356.45L476.43,381.45" stroke="#b2b2b2" stroke-width="0.7" fill="none"/>
<path d="M447.97,381.45L504.88,356.45" stroke="#b2b2b2" stroke-width="0.7" fill="none"/>
<path d="M447.97,343.95L504.88,368.95" stroke="#b2b2b2" stroke-width="0.7" fill="none"/>
<path d="M419.52,356.45L419.52,294.05" stroke="#c6c6c6" stroke-width="0.7" fill="none"/>
<path d="M476.43,343.95L476.43,281.55" stroke="#c6c6c6" stroke-width="0.7" fill="none"/>
<path d="M447.97,343.95L447.97,281.55" stroke="#c6c6c6" stroke-width="0.7" fill="none"/>
<path d="M504.88,356.45L504.88,294.05" stroke="#c6c6c6" stroke-width="0.7" fill="none"/>
<path d="M405.30,347.10L462.20,322.10" stroke="#9c9c9c" stroke-width="0.7" fill="none"/>
<path d="M462.20,322.10L519.10,347.10" stroke="#9c9c9c" stroke-width="0.7" fill="none"/>
<path d="M405.30,331.50L462.20,306.50" stroke="#9c9c9c" stroke-width="0.7" fill="none"/>
<path d="M462.20,306.50L519.10,331.50" stroke="#9c9c9c" stroke-width="0.7" fill="none"/>
<path d="M405.30,315.90L462.20,290.90" stroke="#9c9c9c" stroke-width="0.7" fill="none"/>
<path d="M462.20,290.90L519.10,315.90" stroke="#9c9c9c" stroke-width="0.7" fill="none"/>
<path d="M405.30,300.30L462.20,275.30" stroke="#8a8a8a" stroke-width="0.8" fill="none"/>
<path d="M462.20,275.30L519.10,300.30" stroke="#8a8a8a" stroke-width="0.8" fill="none"/>
<path d="M519.10,300.30L519.10,362.70" stroke="#8a8a8a" stroke-width="1.1" fill="none"/>
<path d="M462.20,275.30L462.20,337.70" stroke="#2a2a2a" stroke-width="1.0" fill="none"/>
<path d="M405.30,362.70L462.20,337.70" stroke="#8a8a8a" stroke-width="0.8" fill="none"/>
<path d="M462.20,337.70L519.10,362.70" stroke="#8a8a8a" stroke-width="0.8" fill="none"/>
<path d="M419.52,294.05L425.78,296.80" stroke="#8a8a8a" stroke-width="0.7" fill="none"/>
<path d="M476.43,281.55L470.17,284.30" stroke="#8a8a8a" stroke-width="0.7" fill="none"/>
<path d="M419.52,368.95v-6.5" stroke="#8a8a8a" stroke-width="0.7"/>
<path d="M476.43,381.45v-6.5" stroke="#8a8a8a" stroke-width="0.7"/>
<path d="M447.97,281.55L454.23,284.30" stroke="#8a8a8a" stroke-width="0.7" fill="none"/>
<path d="M504.88,294.05L498.62,296.80" stroke="#8a8a8a" stroke-width="0.7" fill="none"/>
<path d="M447.97,381.45v-6.5" stroke="#8a8a8a" stroke-width="0.7"/>
<path d="M504.88,368.95v-6.5" stroke="#8a8a8a" stroke-width="0.7"/>
<path d="M405.30,362.70L411.56,365.45" stroke="#8a8a8a" stroke-width="0.7" fill="none"/>
<path d="M519.10,362.70L512.84,365.45" stroke="#8a8a8a" stroke-width="0.7" fill="none"/>
<path d="M405.30,347.10L411.56,349.85" stroke="#8a8a8a" stroke-width="0.7" fill="none"/>
<path d="M519.10,347.10L512.84,349.85" stroke="#8a8a8a" stroke-width="0.7" fill="none"/>
<path d="M405.30,331.50L411.56,334.25" stroke="#8a8a8a" stroke-width="0.7" fill="none"/>
<path d="M519.10,331.50L512.84,334.25" stroke="#8a8a8a" stroke-width="0.7" fill="none"/>
<path d="M405.30,315.90L411.56,318.65" stroke="#8a8a8a" stroke-width="0.7" fill="none"/>
<path d="M519.10,315.90L512.84,318.65" stroke="#8a8a8a" stroke-width="0.7" fill="none"/>
<path d="M405.30,300.30L411.56,303.05" stroke="#8a8a8a" stroke-width="0.7" fill="none"/>
<path d="M519.10,300.30L512.84,303.05" stroke="#8a8a8a" stroke-width="0.7" fill="none"/>
<path d="M405.30,300.30L405.30,362.70" stroke="#2a2a2a" stroke-width="0.9" fill="none"/>
<path d="M405.30,362.70L462.20,387.70" stroke="#2a2a2a" stroke-width="0.9" fill="none"/>
<path d="M462.20,387.70L519.10,362.70" stroke="#2a2a2a" stroke-width="0.9" fill="none"/>
<polygon points="440.00,317.20 462.50,327.30 462.50,329.00 440.00,318.90" fill="#80ca28" stroke="#66a120" stroke-width="0.5" stroke-linejoin="round"/>
<polygon points="462.50,327.30 485.00,317.20 485.00,318.90 462.50,329.00" fill="#80ca28" stroke="#66a120" stroke-width="0.5" stroke-linejoin="round"/>
<polygon points="440.00,317.20 462.50,307.10 485.00,317.20 462.50,327.30" fill="#80ca28" stroke="#66a120" stroke-width="0.5" stroke-linejoin="round"/>
<polygon points="411.60,317.00 434.10,327.10 434.10,343.00 411.60,332.90" fill="#58af25" stroke="#468c1d" stroke-width="0.5" stroke-linejoin="round"/>
<polygon points="434.10,327.10 456.60,317.00 456.60,332.90 434.10,343.00" fill="#58af25" stroke="#468c1d" stroke-width="0.5" stroke-linejoin="round"/>
<polygon points="411.60,317.00 434.10,306.90 456.60,317.00 434.10,327.10" fill="#58af25" stroke="#468c1d" stroke-width="0.5" stroke-linejoin="round"/>
<polygon points="468.10,311.85 490.60,321.95 490.60,343.15 468.10,333.05" fill="#4fa823" stroke="#3f861c" stroke-width="0.5" stroke-linejoin="round"/>
<polygon points="490.60,321.95 513.10,311.85 513.10,333.05 490.60,343.15" fill="#4fa823" stroke="#3f861c" stroke-width="0.5" stroke-linejoin="round"/>
<polygon points="468.10,311.85 490.60,301.75 513.10,311.85 490.60,321.95" fill="#4fa823" stroke="#3f861c" stroke-width="0.5" stroke-linejoin="round"/>
<polygon points="440.00,343.85 462.50,353.95 462.50,355.65 440.00,345.55" fill="#80ca28" stroke="#66a120" stroke-width="0.5" stroke-linejoin="round"/>
<polygon points="462.50,353.95 485.00,343.85 485.00,345.55 462.50,355.65" fill="#80ca28" stroke="#66a120" stroke-width="0.5" stroke-linejoin="round"/>
<polygon points="440.00,343.85 462.50,333.75 485.00,343.85 462.50,353.95" fill="#80ca28" stroke="#66a120" stroke-width="0.5" stroke-linejoin="round"/>
<text x="391.50" y="305.60" font-size="16.5" text-anchor="start" font-family='"Liberation Serif", serif' textLength="7.60" lengthAdjust="spacingAndGlyphs" >1</text>
<text x="391.50" y="336.90" font-size="16.5" text-anchor="start" font-family='"Liberation Serif", serif' textLength="7.60" lengthAdjust="spacingAndGlyphs" >0</text>
<path d="M379.11,362.75h10.09" stroke="#3a3a3a" stroke-width="0.7" fill="none"/>
<text x="391.50" y="367.40" font-size="16.5" text-anchor="start" font-family='"Liberation Serif", serif' textLength="7.60" lengthAdjust="spacingAndGlyphs" >1</text>
<text x="404.60" y="388.80" font-size="19.0" text-anchor="start" font-family='"Liberation Serif", serif' textLength="12.90" lengthAdjust="spacingAndGlyphs" >H</text>
<text x="433.15" y="401.80" font-size="19.0" text-anchor="start" font-family='"Liberation Serif", serif' textLength="12.90" lengthAdjust="spacingAndGlyphs" >V</text>
<text x="479.05" y="401.80" font-size="19.0" text-anchor="start" font-family='"Liberation Serif", serif' textLength="12.90" lengthAdjust="spacingAndGlyphs" >H</text>
<text x="507.55" y="388.80" font-size="19.0" text-anchor="start" font-family='"Liberation Serif", serif' textLength="12.90" lengthAdjust="spacingAndGlyphs" >V</text>
<path d="M582.73,368.95L639.62,343.95" stroke="#b2b2b2" stroke-width="0.7" fill="none"/>
<path d="M582.73,356.45L639.62,381.45" stroke="#b2b2b2" stroke-width="0.7" fill="none"/>
<path d="M611.17,381.45L668.07,356.45" stroke="#b2b2b2" stroke-width="0.7" fill="none"/>
<path d="M611.17,343.95L668.07,368.95" stroke="#b2b2b2" stroke-width="0.7" fill="none"/>
<path d="M582.73,356.45L582.73,294.05" stroke="#c6c6c6" stroke-width="0.7" fill="none"/>
<path d="M639.62,343.95L639.62,281.55" stroke="#c6c6c6" stroke-width="0.7" fill="none"/>
<path d="M611.17,343.95L611.17,281.55" stroke="#c6c6c6" stroke-width="0.7" fill="none"/>
<path d="M668.07,356.45L668.07,294.05" stroke="#c6c6c6" stroke-width="0.7" fill="none"/>
<path d="M568.50,347.10L625.40,322.10" stroke="#9c9c9c" stroke-width="0.7" fill="none"/>
<path d="M625.40,322.10L682.30,347.10" stroke="#9c9c9c" stroke-width="0.7" fill="none"/>
<path d="M568.50,331.50L625.40,306.50" stroke="#9c9c9c" stroke-width="0.7" fill="none"/>
<path d="M625.40,306.50L682.30,331.50" stroke="#9c9c9c" stroke-width="0.7" fill="none"/>
<path d="M568.50,315.90L625.40,290.90" stroke="#9c9c9c" stroke-width="0.7" fill="none"/>
<path d="M625.40,290.90L682.30,315.90" stroke="#9c9c9c" stroke-width="0.7" fill="none"/>
<path d="M568.50,300.30L625.40,275.30" stroke="#8a8a8a" stroke-width="0.8" fill="none"/>
<path d="M625.40,275.30L682.30,300.30" stroke="#8a8a8a" stroke-width="0.8" fill="none"/>
<path d="M682.30,300.30L682.30,362.70" stroke="#8a8a8a" stroke-width="1.1" fill="none"/>
<path d="M625.40,275.30L625.40,337.70" stroke="#2a2a2a" stroke-width="1.0" fill="none"/>
<path d="M568.50,362.70L625.40,337.70" stroke="#8a8a8a" stroke-width="0.8" fill="none"/>
<path d="M625.40,337.70L682.30,362.70" stroke="#8a8a8a" stroke-width="0.8" fill="none"/>
<path d="M582.73,294.05L588.98,296.80" stroke="#8a8a8a" stroke-width="0.7" fill="none"/>
<path d="M639.62,281.55L633.37,284.30" stroke="#8a8a8a" stroke-width="0.7" fill="none"/>
<path d="M582.73,368.95v-6.5" stroke="#8a8a8a" stroke-width="0.7"/>
<path d="M639.62,381.45v-6.5" stroke="#8a8a8a" stroke-width="0.7"/>
<path d="M611.17,281.55L617.43,284.30" stroke="#8a8a8a" stroke-width="0.7" fill="none"/>
<path d="M668.07,294.05L661.82,296.80" stroke="#8a8a8a" stroke-width="0.7" fill="none"/>
<path d="M611.17,381.45v-6.5" stroke="#8a8a8a" stroke-width="0.7"/>
<path d="M668.07,368.95v-6.5" stroke="#8a8a8a" stroke-width="0.7"/>
<path d="M568.50,362.70L574.76,365.45" stroke="#8a8a8a" stroke-width="0.7" fill="none"/>
<path d="M682.30,362.70L676.04,365.45" stroke="#8a8a8a" stroke-width="0.7" fill="none"/>
<path d="M568.50,347.10L574.76,349.85" stroke="#8a8a8a" stroke-width="0.7" fill="none"/>
<path d="M682.30,347.10L676.04,349.85" stroke="#8a8a8a" stroke-width="0.7" fill="none"/>
<path d="M568.50,331.50L574.76,334.25" stroke="#8a8a8a" stroke-width="0.7" fill="none"/>
<path d="M682.30,331.50L676.04,334.25" stroke="#8a8a8a" stroke-width="0.7" fill="none"/>
<path d="M568.50,315.90L574.76,318.65" stroke="#8a8a8a" stroke-width="0.7" fill="none"/>
<path d="M682.30,315.90L676.04,318.65" stroke="#8a8a8a" stroke-width="0.7" fill="none"/>
<path d="M568.50,300.30L574.76,303.05" stroke="#8a8a8a" stroke-width="0.7" fill="none"/>
<path d="M682.30,300.30L676.04,303.05" stroke="#8a8a8a" stroke-width="0.7" fill="none"/>
<path d="M568.50,300.30L568.50,362.70" stroke="#2a2a2a" stroke-width="0.9" fill="none"/>
<path d="M568.50,362.70L625.40,387.70" stroke="#2a2a2a" stroke-width="0.9" fill="none"/>
<path d="M625.40,387.70L682.30,362.70" stroke="#2a2a2a" stroke-width="0.9" fill="none"/>
<polygon points="602.90,297.20 625.40,307.30 625.40,324.20 602.90,314.10" fill="#55ac25" stroke="#44891d" stroke-width="0.5" stroke-linejoin="round"/>
<polygon points="625.40,307.30 647.90,297.20 647.90,314.10 625.40,324.20" fill="#55ac25" stroke="#44891d" stroke-width="0.5" stroke-linejoin="round"/>
<polygon points="602.90,297.20 625.40,287.10 647.90,297.20 625.40,307.30" fill="#55ac25" stroke="#44891d" stroke-width="0.5" stroke-linejoin="round"/>
<polygon points="574.60,330.50 597.10,340.60 597.10,342.20 574.60,332.10" fill="#88d12a" stroke="#6ca721" stroke-width="0.5" stroke-linejoin="round"/>
<polygon points="597.10,340.60 619.60,330.50 619.60,332.10 597.10,342.20" fill="#88d12a" stroke="#6ca721" stroke-width="0.5" stroke-linejoin="round"/>
<polygon points="574.60,330.50 597.10,320.40 619.60,330.50 597.10,340.60" fill="#88d12a" stroke="#6ca721" stroke-width="0.5" stroke-linejoin="round"/>
<polygon points="631.20,330.50 653.70,340.60 653.70,342.20 631.20,332.10" fill="#88d12a" stroke="#6ca721" stroke-width="0.5" stroke-linejoin="round"/>
<polygon points="653.70,340.60 676.20,330.50 676.20,332.10 653.70,342.20" fill="#88d12a" stroke="#6ca721" stroke-width="0.5" stroke-linejoin="round"/>
<polygon points="631.20,330.50 653.70,320.40 676.20,330.50 653.70,340.60" fill="#88d12a" stroke="#6ca721" stroke-width="0.5" stroke-linejoin="round"/>
<polygon points="602.90,341.70 625.40,351.80 625.40,369.20 602.90,359.10" fill="#b2eb32" stroke="#8ebc28" stroke-width="0.5" stroke-linejoin="round"/>
<polygon points="625.40,351.80 647.90,341.70 647.90,359.10 625.40,369.20" fill="#b2eb32" stroke="#8ebc28" stroke-width="0.5" stroke-linejoin="round"/>
<polygon points="602.90,341.70 625.40,331.60 647.90,341.70 625.40,351.80" fill="#b2eb32" stroke="#8ebc28" stroke-width="0.5" stroke-linejoin="round"/>
<text x="554.70" y="305.60" font-size="16.5" text-anchor="start" font-family='"Liberation Serif", serif' textLength="7.60" lengthAdjust="spacingAndGlyphs" >1</text>
<text x="554.70" y="336.90" font-size="16.5" text-anchor="start" font-family='"Liberation Serif", serif' textLength="7.60" lengthAdjust="spacingAndGlyphs" >0</text>
<path d="M542.31,362.75h10.09" stroke="#3a3a3a" stroke-width="0.7" fill="none"/>
<text x="554.70" y="367.40" font-size="16.5" text-anchor="start" font-family='"Liberation Serif", serif' textLength="7.60" lengthAdjust="spacingAndGlyphs" >1</text>
<text x="567.80" y="388.80" font-size="19.0" text-anchor="start" font-family='"Liberation Serif", serif' textLength="12.90" lengthAdjust="spacingAndGlyphs" >H</text>
<text x="596.35" y="401.80" font-size="19.0" text-anchor="start" font-family='"Liberation Serif", serif' textLength="12.90" lengthAdjust="spacingAndGlyphs" >V</text>
<text x="642.25" y="401.80" font-size="19.0" text-anchor="start" font-family='"Liberation Serif", serif' textLength="12.90" lengthAdjust="spacingAndGlyphs" >H</text>
<text x="670.75" y="388.80" font-size="19.0" text-anchor="start" font-family='"Liberation Serif", serif' textLength="12.90" lengthAdjust="spacingAndGlyphs" >V</text>
<defs><linearGradient id="cb" x1="0" x2="1" y1="0" y2="0"><stop offset="0" stop-color="#f2fd45"/><stop offset="0.25" stop-color="#b4e931"/><stop offset="0.5" stop-color="#76c428"/><stop offset="0.75" stop-color="#55ab24"/><stop offset="1" stop-color="#368c1e"/></linearGradient></defs>
<rect x="174.0" y="421.9" width="342.6" height="25.200000000000045" fill="url(#cb)"/>
<path d="M259.65,421.9V447.1" stroke="#6b8a3a" stroke-opacity="0.55" stroke-width="0.7" stroke-dasharray="5 4"/>
<path d="M345.30,421.9V447.1" stroke="#6b8a3a" stroke-opacity="0.55" stroke-width="0.7" stroke-dasharray="5 4"/>
<path d="M430.95,421.9V447.1" stroke="#6b8a3a" stroke-opacity="0.55" stroke-width="0.7" stroke-dasharray="5 4"/>
<rect x="174.0" y="421.9" width="342.6" height="25.200000000000045" fill="none" stroke="#4a4a4a" stroke-width="0.9"/>
<path d="M164.29,459.38h11.28" stroke="#3a3a3a" stroke-width="0.7" fill="none"/>
<text x="176.92" y="464.50" font-size="18.4" text-anchor="start" font-family='"Liberation Serif", serif' textLength="8.55" lengthAdjust="spacingAndGlyphs" >1</text>
<path d="M242.90,459.38h11.28" stroke="#3a3a3a" stroke-width="0.7" fill="none"/>
<text x="255.53" y="464.50" font-size="18.4" text-anchor="start" font-family='"Liberation Serif", serif' textLength="22.63" lengthAdjust="spacingAndGlyphs" >0.5</text>
<text x="341.18" y="464.50" font-size="18.4" text-anchor="start" font-family='"Liberation Serif", serif' textLength="8.55" lengthAdjust="spacingAndGlyphs" >0</text>
<text x="419.78" y="464.50" font-size="18.4" text-anchor="start" font-family='"Liberation Serif", serif' textLength="22.63" lengthAdjust="spacingAndGlyphs" >0.5</text>
<text x="512.48" y="464.50" font-size="18.4" text-anchor="start" font-family='"Liberation Serif", serif' textLength="8.55" lengthAdjust="spacingAndGlyphs" >1</text>
</svg>
</body></html>
